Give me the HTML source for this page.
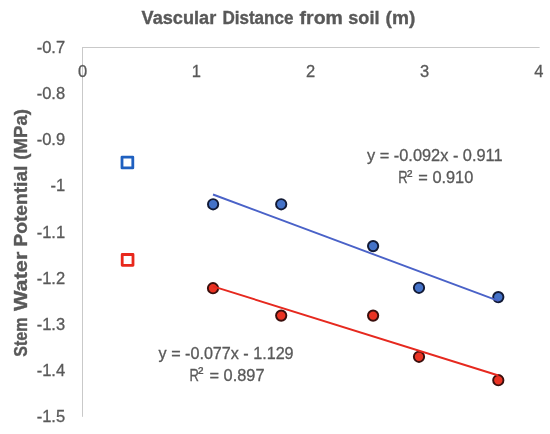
<!DOCTYPE html>
<html lang="en">
<head>
<meta charset="utf-8">
<title>Vascular Distance from soil (m)</title>
<style>
html,body{margin:0;padding:0;background:#fff;}
body{width:550px;height:434px;overflow:hidden;}
.f{font-family:"Liberation Sans",sans-serif;}
</style>
</head>
<body>
<svg width="550" height="434" viewBox="0 0 550 434" style="display:block">
<rect width="550" height="434" fill="#ffffff"/>
<rect x="82" y="47" width="457.6" height="1" fill="#c9c9c9"/>
<rect x="82" y="47" width="1" height="369.8" fill="#c9c9c9"/>
<text y="24.3" class="f" font-weight="bold" font-size="18" fill="#595959" stroke="#595959" stroke-width="0.35"><tspan x="141.6" textLength="74.6" lengthAdjust="spacingAndGlyphs">Vascular</tspan> <tspan x="222.4" textLength="71.1" lengthAdjust="spacingAndGlyphs">Distance</tspan> <tspan x="299.6" textLength="43.2" lengthAdjust="spacingAndGlyphs">from</tspan> <tspan x="348.3" textLength="31.2" lengthAdjust="spacingAndGlyphs">soil</tspan> <tspan x="385.6" textLength="29.7" lengthAdjust="spacingAndGlyphs">(m)</tspan></text>
<text transform="translate(26.7 0) rotate(-90)" y="0" class="f" font-weight="bold" font-size="18" fill="#595959" stroke="#595959" stroke-width="0.35"><tspan x="-356.8" textLength="39.3" lengthAdjust="spacingAndGlyphs">Stem</tspan> <tspan x="-311.0" textLength="59.3" lengthAdjust="spacingAndGlyphs">Water</tspan> <tspan x="-246.6" textLength="81.0" lengthAdjust="spacingAndGlyphs">Potential</tspan> <tspan x="-159.8" textLength="50.8" lengthAdjust="spacingAndGlyphs">(MPa)</tspan></text>
<text x="65.1" y="53.0" text-anchor="end" class="f" font-size="16.5" fill="#595959" stroke="#595959" stroke-width="0.3">-0.7</text>
<text x="65.1" y="99.1" text-anchor="end" class="f" font-size="16.5" fill="#595959" stroke="#595959" stroke-width="0.3">-0.8</text>
<text x="65.1" y="145.3" text-anchor="end" class="f" font-size="16.5" fill="#595959" stroke="#595959" stroke-width="0.3">-0.9</text>
<text x="65.1" y="191.4" text-anchor="end" class="f" font-size="16.5" fill="#595959" stroke="#595959" stroke-width="0.3">-1</text>
<text x="65.1" y="237.6" text-anchor="end" class="f" font-size="16.5" fill="#595959" stroke="#595959" stroke-width="0.3">-1.1</text>
<text x="65.1" y="283.7" text-anchor="end" class="f" font-size="16.5" fill="#595959" stroke="#595959" stroke-width="0.3">-1.2</text>
<text x="65.1" y="329.8" text-anchor="end" class="f" font-size="16.5" fill="#595959" stroke="#595959" stroke-width="0.3">-1.3</text>
<text x="65.1" y="376.0" text-anchor="end" class="f" font-size="16.5" fill="#595959" stroke="#595959" stroke-width="0.3">-1.4</text>
<text x="65.1" y="422.1" text-anchor="end" class="f" font-size="16.5" fill="#595959" stroke="#595959" stroke-width="0.3">-1.5</text>
<text x="82.6" y="76.7" text-anchor="middle" class="f" font-size="16.5" fill="#595959" stroke="#595959" stroke-width="0.3">0</text>
<text x="196.3" y="76.7" text-anchor="middle" class="f" font-size="16.5" fill="#595959" stroke="#595959" stroke-width="0.3">1</text>
<text x="310.5" y="76.7" text-anchor="middle" class="f" font-size="16.5" fill="#595959" stroke="#595959" stroke-width="0.3">2</text>
<text x="424.7" y="76.7" text-anchor="middle" class="f" font-size="16.5" fill="#595959" stroke="#595959" stroke-width="0.3">3</text>
<text x="538.9" y="76.7" text-anchor="middle" class="f" font-size="16.5" fill="#595959" stroke="#595959" stroke-width="0.3">4</text>
<circle cx="213.1" cy="204.3" r="5.15" fill="#4472c8" stroke="#121a36" stroke-width="1.9"/>
<circle cx="281.2" cy="204.3" r="5.15" fill="#4472c8" stroke="#121a36" stroke-width="1.9"/>
<circle cx="373.1" cy="246.1" r="5.15" fill="#4472c8" stroke="#121a36" stroke-width="1.9"/>
<circle cx="419.0" cy="287.8" r="5.15" fill="#4472c8" stroke="#121a36" stroke-width="1.9"/>
<circle cx="498.3" cy="297.1" r="5.15" fill="#4472c8" stroke="#121a36" stroke-width="1.9"/>
<circle cx="213.0" cy="288.2" r="5.15" fill="#ea3323" stroke="#3a0f0d" stroke-width="1.9"/>
<circle cx="281.2" cy="315.6" r="5.15" fill="#ea3323" stroke="#3a0f0d" stroke-width="1.9"/>
<circle cx="373.1" cy="315.6" r="5.15" fill="#ea3323" stroke="#3a0f0d" stroke-width="1.9"/>
<circle cx="419.0" cy="356.8" r="5.15" fill="#ea3323" stroke="#3a0f0d" stroke-width="1.9"/>
<circle cx="498.3" cy="380.2" r="5.15" fill="#ea3323" stroke="#3a0f0d" stroke-width="1.9"/>
<line x1="213.0" y1="194.5" x2="498.5" y2="300.9" stroke="#4a62c8" stroke-width="1.9"/>
<line x1="213.0" y1="286.4" x2="498.5" y2="375.5" stroke="#e6291f" stroke-width="1.9"/>
<rect x="122.0" y="157.1" width="10.8" height="10.8" fill="#ffffff" stroke="#1f60c0" stroke-width="2.8" stroke-linejoin="round"/>
<rect x="122.2" y="254.5" width="10.8" height="10.8" fill="#ffffff" stroke="#e8281c" stroke-width="2.8" stroke-linejoin="round"/>
<text x="434.8" y="161.2" text-anchor="middle" class="f" font-size="16" fill="#595959" stroke="#595959" stroke-width="0.3" textLength="135.5" lengthAdjust="spacingAndGlyphs">y = -0.092x - 0.911</text>
<text y="183.2" class="f" font-size="16" fill="#595959" stroke="#595959" stroke-width="0.3"><tspan x="398.2" textLength="9.4" lengthAdjust="spacingAndGlyphs">R</tspan><tspan x="406.9" dy="-2.7" font-size="16.2">²</tspan><tspan x="418.3" dy="2.7" textLength="55.0" lengthAdjust="spacingAndGlyphs">= 0.910</tspan></text>
<text x="226.1" y="359.0" text-anchor="middle" class="f" font-size="16" fill="#595959" stroke="#595959" stroke-width="0.3" textLength="135.0" lengthAdjust="spacingAndGlyphs">y = -0.077x - 1.129</text>
<text y="381.0" class="f" font-size="16" fill="#595959" stroke="#595959" stroke-width="0.3"><tspan x="189.4" textLength="9.4" lengthAdjust="spacingAndGlyphs">R</tspan><tspan x="198.1" dy="-2.7" font-size="16.2">²</tspan><tspan x="209.5" dy="2.7" textLength="55.0" lengthAdjust="spacingAndGlyphs">= 0.897</tspan></text>
</svg>
</body>
</html>
